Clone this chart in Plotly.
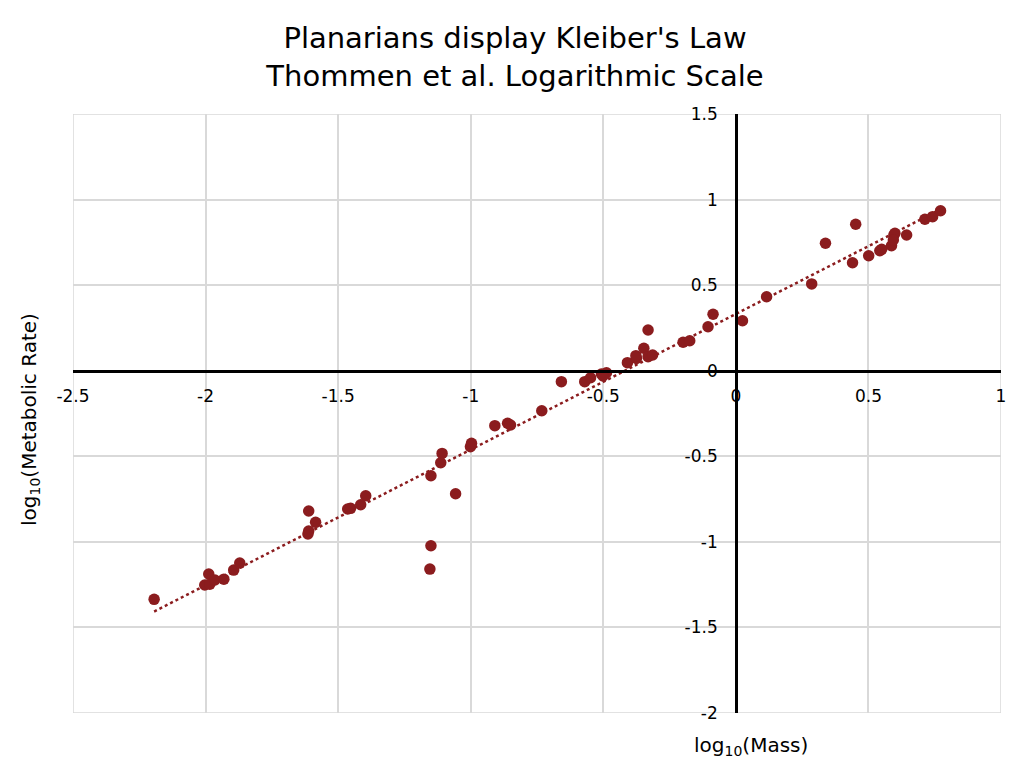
import numpy as np
import plotly.graph_objects as go

# log10(Mass)
x_mass = [-2.194, -2.003, -1.988, -1.984, -1.965, -1.931, -1.894, -1.871,
          -1.611, -1.585, -1.614, -1.611, -1.464, -1.453, -1.415, -1.396,
          -1.150, -1.113, -1.108, -1.057, -1.150, -1.154, -1.001, -0.997,
          -0.909, -0.861, -0.850, -0.732, -0.658, -0.570, -0.548, -0.507,
          -0.488, -0.501, -0.409, -0.375, -0.377, -0.347, -0.331, -0.314,
          -0.331, -0.199, -0.174, -0.105, -0.086, 0.025, 0.116, 0.286,
          0.338, 0.440, 0.452, 0.501, 0.543, 0.550, 0.587, 0.596, 0.600,
          0.594, 0.644, 0.713, 0.742, 0.772]
# log10(Metabolic Rate)
y_rate = [-1.336, -1.252, -1.188, -1.247, -1.223, -1.218, -1.165, -1.124,
          -0.820, -0.886, -0.954, -0.937, -0.808, -0.804, -0.783, -0.731,
          -0.614, -0.538, -0.483, -0.719, -1.023, -1.159, -0.444, -0.424,
          -0.321, -0.307, -0.317, -0.234, -0.064, -0.064, -0.041, -0.019,
          -0.012, -0.031, 0.047, 0.072, 0.088, 0.131, 0.082, 0.092,
          0.238, 0.166, 0.175, 0.257, 0.330, 0.292, 0.432, 0.507,
          0.745, 0.631, 0.856, 0.672, 0.701, 0.709, 0.730, 0.793, 0.803,
          0.764, 0.793, 0.885, 0.900, 0.935]

x_ticks = [-2.5, -2, -1.5, -1, -0.5, 0, 0.5, 1]
x_tick_text = ["-2.5", "-2", "-1.5", "-1", "-0.5", "0", "0.5", "1"]
y_ticks = [-2, -1.5, -1, -0.5, 0, 0.5, 1, 1.5]
y_tick_text = ["-2", "-1.5", "-1", "-0.5", "0", "0.5", "1", "1.5"]

title_text = "Planarians display Kleiber's Law<br>Thommen et al. Logarithmic Scale"
x_title = "log<sub>10</sub>(Mass)"
y_title = "log<sub>10</sub>(Metabolic Rate)"

COLOR = "#8B1C1E"
GRID = "#D9D9D9"
FONT = "Verdana, DejaVu Sans, sans-serif"

xr = [-2.5, 1]
yr = [-2, 1.5]

slope, intercept = np.polyfit(x_mass, y_rate, 1)
tx = np.array([min(x_mass), max(x_mass)])
ty = slope * tx + intercept

fig = go.Figure()
fig.add_trace(go.Scatter(x=tx, y=ty, mode="lines",
                         line=dict(color=COLOR, width=2.5, dash="dot"),
                         showlegend=False, hoverinfo="skip"))
fig.add_trace(go.Scatter(x=x_mass, y=y_rate, mode="markers",
                         marker=dict(color=COLOR, size=11.5),
                         showlegend=False))

xpos = (0 - yr[0]) / (yr[1] - yr[0])
ypos = (0 - xr[0]) / (xr[1] - xr[0])

# edge gridlines (plotly omits gridlines on the range boundary)
shapes = []
for xv in xr:
    shapes.append(dict(type="line", xref="x", yref="paper", x0=xv, x1=xv, y0=0, y1=1,
                       line=dict(color=GRID, width=1.5), layer="below"))
for yv in yr:
    shapes.append(dict(type="line", xref="paper", yref="y", x0=0, x1=1, y0=yv, y1=yv,
                       line=dict(color=GRID, width=1.5), layer="below"))

fig.update_layout(
    width=1030, height=769,
    margin=dict(l=65, r=37, t=106, b=64, autoexpand=False),
    paper_bgcolor="white", plot_bgcolor="white",
    font=dict(family=FONT, size=17, color="black"),
    title=dict(text=title_text, x=(515 - 8) / 1030, xanchor="center", y=0.948, yanchor="top",
               font=dict(family=FONT, size=29, color="black")),
    xaxis=dict(range=xr, tickvals=x_ticks, ticktext=x_tick_text,
               showgrid=True, gridcolor=GRID, gridwidth=1.5,
               zeroline=False, showline=True, linecolor="black", linewidth=2.5,
               anchor="free", position=xpos, domain=[0, 1], automargin=False,
               ticks="outside", ticklen=9, tickcolor="rgba(0,0,0,0)",
               tickfont=dict(family=FONT, size=17, color="black")),
    yaxis=dict(range=yr, tickvals=y_ticks, ticktext=y_tick_text,
               showgrid=True, gridcolor=GRID, gridwidth=1.5,
               zeroline=False, showline=True, linecolor="black", linewidth=2.5,
               anchor="free", position=ypos, domain=[0, 1], automargin=False,
               ticks="outside", ticklen=14, tickcolor="rgba(0,0,0,0)",
               tickfont=dict(family=FONT, size=17, color="black")),
    shapes=shapes,
    annotations=[
        dict(text=x_title, xref="paper", yref="paper",
             x=(751 - 73) / 928, y=(713 - 746) / 599,
             xanchor="center", yanchor="middle", showarrow=False,
             font=dict(family=FONT, size=20, color="black")),
        dict(text=y_title, xref="paper", yref="paper",
             x=(30 - 73) / 928, y=(713 - 420) / 599,
             xanchor="center", yanchor="middle", showarrow=False, textangle=-90,
             font=dict(family=FONT, size=20, color="black")),
    ],
)

fig.write_html("out.html")
